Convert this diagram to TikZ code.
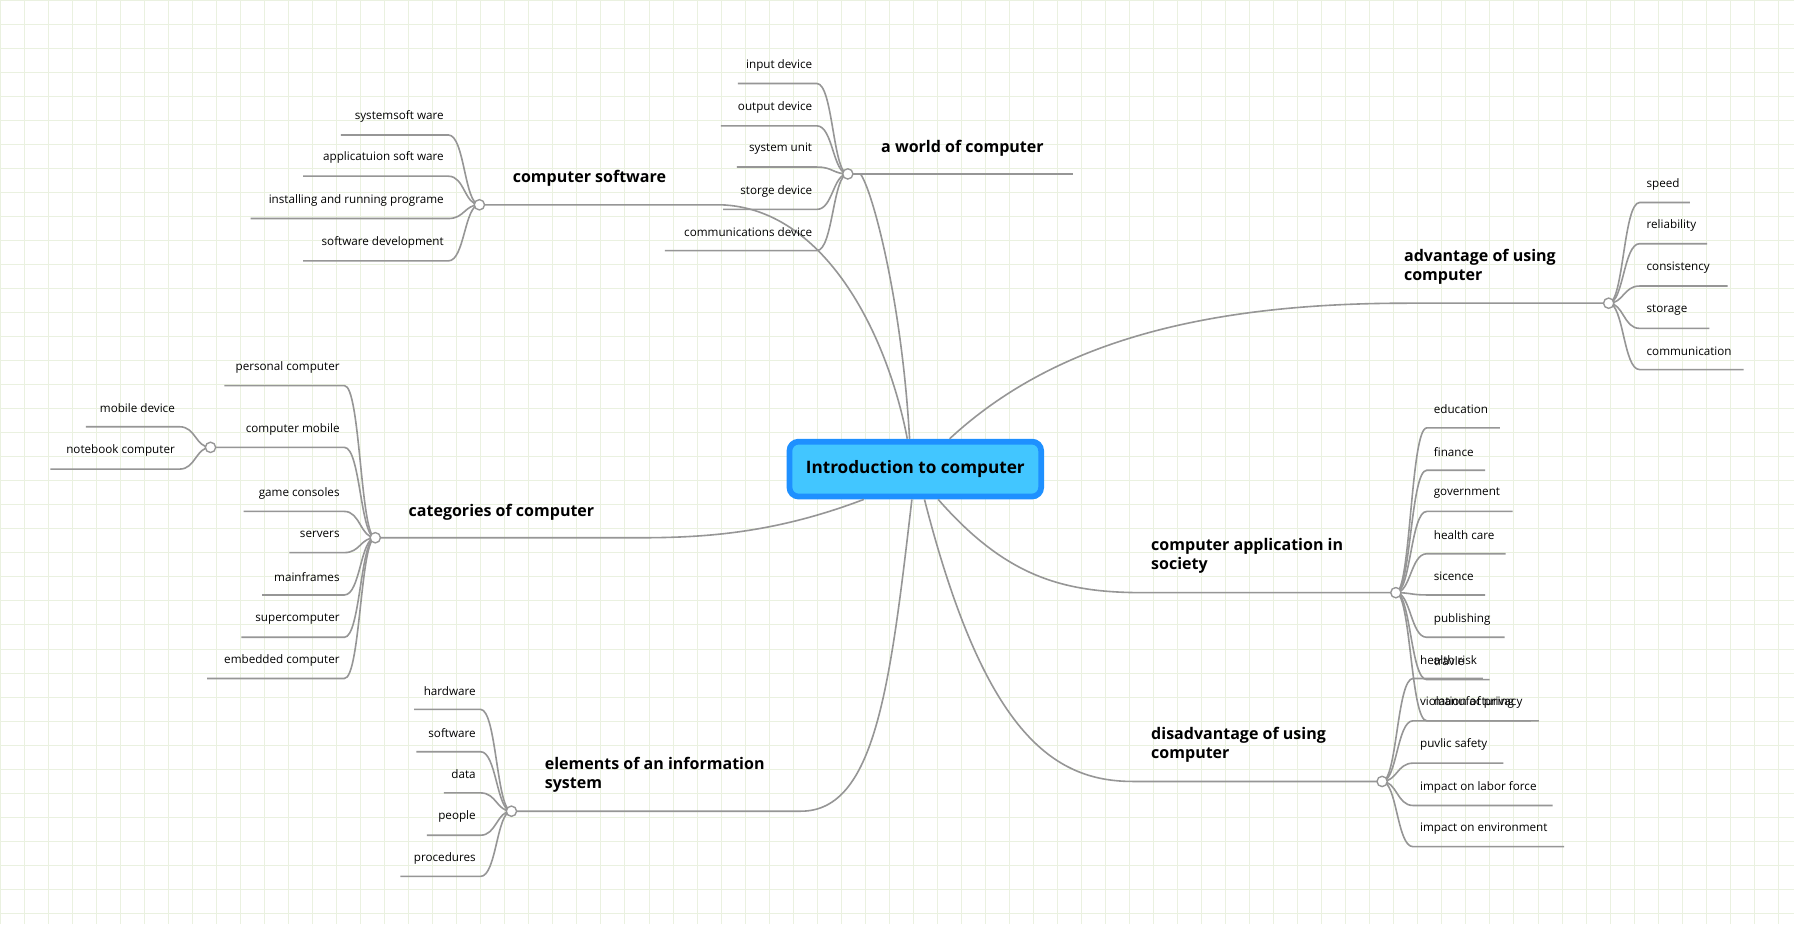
\documentclass[tikz,border=0pt]{standalone}
\usepackage{fontspec}
\setmainfont{Open Sans}
\usepackage{tikz}
\definecolor{gridc}{RGB}{234,241,224}
\definecolor{linkc}{RGB}{150,150,150}
\definecolor{rootfill}{RGB}{66,198,255}
\definecolor{rootdraw}{RGB}{30,144,255}

\begin{document}
\begin{tikzpicture}[x=1pt,y=-1pt,
    link/.style={draw=linkc, line width=1.4pt},
    hub/.style={circle, draw=linkc, fill=white, line width=1.2pt, inner sep=0pt, minimum size=9pt},
    leaf/.style={font=\fontsize{10.2}{12}\selectfont, inner sep=0pt},
    topic/.style={font=\fontsize{14}{17}\selectfont\bfseries, align=left, inner sep=0pt}]
	\useasboundingbox (0,0) rectangle (1568,808);
	\fill[white] (0,0) rectangle (1568,808);
	\foreach \gx in {0,21,...,1568} \draw[gridc] (\gx,0) -- (\gx,808);
	\foreach \gy in {0,21,...,808} \draw[gridc] (0,\gy) -- (1568,\gy);

	% centre
	\node (root) at (800,410) [rounded corners=8pt, fill=rootfill, draw=rootdraw, line width=5pt, minimum width=220pt, minimum height=48pt, font=\fontsize{15}{18}\selectfont\bfseries] {Introduction to computer};

	% hubs
	\coordinate (wh) at (741,152);
	\coordinate (sh) at (419,179);
	\coordinate (ah) at (1406,265);
	\coordinate (ph) at (1220,518);
	\coordinate (dh) at (1208,683);
	\coordinate (ch) at (328,470);
	\coordinate (mh) at (184,391);
	\coordinate (eh) at (447,709);

	% branches
	\draw[link] ([xshift=-5pt]root.north) .. controls (788,260) and (762,165) .. (752,152);
	\draw[link] (wh) -- (938,152);
	\draw[link] ([xshift=-7pt]root.north) .. controls (775,290) and (720,182) .. (630,179) -- (sh);
	\draw[link] ([xshift=30pt]root.north) .. controls (920,300) and (1050,265) .. (1230,265) -- (ah);
	\draw[link] ([xshift=20pt]root.south) .. controls (880,505) and (930,518) .. (1000,518) -- (ph);
	\draw[link] ([xshift=8pt]root.south) .. controls (860,640) and (920,683) .. (990,683) -- (dh);
	\draw[link] ([xshift=-45pt]root.south) .. controls (680,465) and (620,470) .. (560,470) -- (ch);
	\draw[link] ([xshift=-3pt]root.south) .. controls (778,600) and (765,709) .. (700,709) -- (eh);

	% topic labels
	\node (wt) at (770,130) [topic, anchor=west] {a world of computer};
	\node (st) at (448,156) [topic, anchor=west] {computer software};
	\node (at) at (1227,233) [topic, anchor=west] {advantage of using\\computer};
	\node (pt) at (1006,486) [topic, anchor=west] {computer application in\\society};
	\node (dt) at (1006,651) [topic, anchor=west] {disadvantage of using\\computer};
	\node (ct) at (357,448) [topic, anchor=west] {categories of computer};
	\node (et) at (476,677) [topic, anchor=west] {elements of an information\\system};

	% leaves on the left of a hub
	\foreach \h/\hx/\hy/\list in {
	    w/741/152/{73/645/input device,110/630/output device,146/644/system unit,183/632/storge device,219/581/communications device},
	    s/419/179/{118/298/systemsoft ware,154/265/applicatuion soft ware,191/219/installing and running programe,228/265/software development},
	    c/328/470/{337/196/personal computer,391/184/computer mobile,447/213/game consoles,483/253/servers,520/229/mainframes,557/211/supercomputer,593/181/embedded computer},
	    m/184/391/{373/75/mobile device,410/44/notebook computer},
	    e/447/709/{620/362/hardware,657/364/software,693/388/data,730/373/people,766/350/procedures}}
	{
	  \foreach \ly/\lx/\txt [count=\i] in \list {
	    \draw[link] (\hx,\hy) .. controls (\hx-13,\hy) and (\hx-13,\ly) .. (\hx-27,\ly) -- (\lx,\ly);
	    \node (\h\i) at (\hx-31,\ly-16) [leaf, anchor=east] {\txt};
	  }
	}
	% leaves on the right of a hub
	\foreach \h/\hx/\hy/\list in {
	    a/1406/265/{177/1477/speed,213/1492/reliability,250/1510/consistency,287/1494/storage,323/1524/communication},
	    p/1220/518/{374/1311/education,411/1298/finance,447/1322/government,484/1316/health care,520/1298/sicence,557/1315/publishing,594/1302/travle,630/1338/manufacturing},
	    d/1208/683/{593/1296/health risk,630/1345/violation of privacy,667/1314/puvlic safety,704/1357/impact on labor force,740/1367/impact on environment}}
	{
	  \foreach \ly/\lx/\txt [count=\i] in \list {
	    \draw[link] (\hx,\hy) .. controls (\hx+13,\hy) and (\hx+13,\ly) .. (\hx+27,\ly) -- (\lx,\ly);
	    \node (\h\i) at (\hx+33,\ly-16) [leaf, anchor=west] {\txt};
	  }
	}

	\foreach \c in {wh,sh,ah,ph,dh,ch,mh,eh} \node at (\c) [hub] {};
\end{tikzpicture}
\end{document}
